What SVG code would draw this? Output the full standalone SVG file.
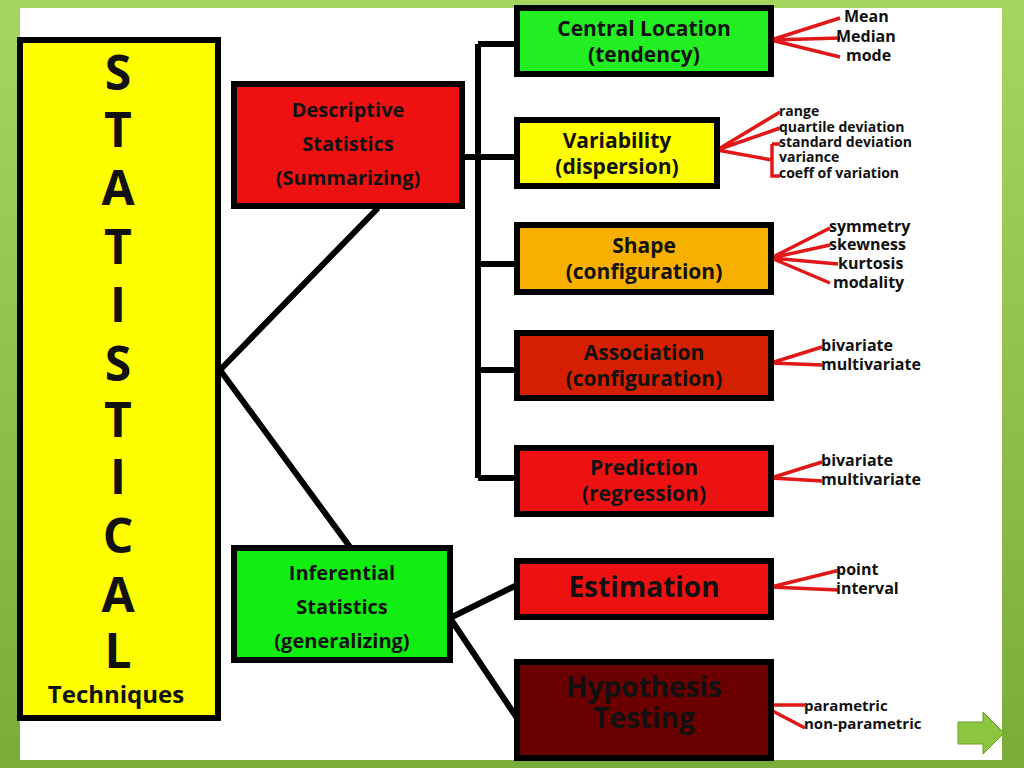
<svg xmlns="http://www.w3.org/2000/svg" width="1024" height="768" viewBox="0 0 1024 768">
<defs><linearGradient id="bg" x1="0" y1="0" x2="0" y2="1"><stop offset="0" stop-color="#a6d660"/><stop offset="1" stop-color="#7aac3a"/></linearGradient></defs>
<style>
.b{stroke:#000;stroke-width:6}
.t{font-family:"Open Sans","DejaVu Sans",sans-serif;font-weight:bold;text-anchor:middle;fill:#111}
.s{font-family:"Open Sans","DejaVu Sans",sans-serif;font-weight:bold;fill:#111}
.k{stroke:#000;stroke-width:6;fill:none}
.r{stroke:#e01818;stroke-width:3.5;fill:none}
</style>
<rect width="1024" height="768" fill="url(#bg)"/>
<rect x="20" y="8" width="982" height="752" fill="#fff"/>
<g id="connectors">
<path class="k" d="M478 44V478M478 44H517M462 157H517M478 264H517M478 370H517M478 478H517M220 370L378 208M220 370L350 547M450 618L517 585M450 618L517 718"/>
<path class="r" d="M771 40L840 18M771 40L840 38M771 40L840 57M717 150L780 112M717 150L780 128M717 150L772 160M772 144V176H780M772 144H780M771 258L830 228M771 258L830 245M771 258L838 264M771 258L830 283M771 363L822 347M771 363L822 365M771 478L822 462M771 478L822 481M771 587L840 570M771 587L838 590M765 705L805 705M765 707L805 728"/>
</g>
<g id="statistical"><rect class="b" x="20" y="40" width="198" height="678" fill="#ffff00"/>
<g class="t" font-size="48"><text x="118" y="90">S</text><text x="118" y="147">T</text><text x="118" y="205">A</text><text x="118" y="264">T</text><text x="118" y="322">I</text><text x="118" y="381">S</text><text x="118" y="437">T</text><text x="118" y="494">I</text><text x="118" y="553">C</text><text x="118" y="612">A</text><text x="118" y="668">L</text></g>
<text class="t" x="116" y="703" font-size="24">Techniques</text></g>
<g id="descriptive"><rect class="b" x="234" y="84" width="228" height="122" fill="#ee1111"/>
<g class="t" font-size="20"><text x="348" y="117">Descriptive</text><text x="348" y="151">Statistics</text><text x="348" y="185">(Summarizing)</text></g></g>
<g id="inferential"><rect class="b" x="234" y="548" width="216" height="112" fill="#11ee11"/>
<g class="t" font-size="20"><text x="342" y="580">Inferential</text><text x="342" y="614">Statistics</text><text x="342" y="648">(generalizing)</text></g></g>
<g id="central"><rect class="b" x="517" y="8" width="254" height="66" fill="#22ee22"/>
<g class="t" font-size="21"><text x="644" y="36">Central Location</text><text x="644" y="62">(tendency)</text></g></g>
<g id="variability"><rect class="b" x="517" y="120" width="200" height="66" fill="#ffff00"/>
<g class="t" font-size="21"><text x="617" y="148">Variability</text><text x="617" y="174">(dispersion)</text></g></g>
<g id="shape"><rect class="b" x="517" y="225" width="254" height="67" fill="#f7b000"/>
<g class="t" font-size="21"><text x="644" y="253">Shape</text><text x="644" y="279">(configuration)</text></g></g>
<g id="association"><rect class="b" x="517" y="333" width="254" height="65" fill="#d42000"/>
<g class="t" font-size="21"><text x="644" y="360">Association</text><text x="644" y="386">(configuration)</text></g></g>
<g id="prediction"><rect class="b" x="517" y="448" width="254" height="66" fill="#ee1111"/>
<g class="t" font-size="21"><text x="644" y="475">Prediction</text><text x="644" y="501">(regression)</text></g></g>
<g id="estimation"><rect class="b" x="517" y="561" width="254" height="56" fill="#ee1111"/>
<text class="t" x="644" y="597" font-size="28">Estimation</text></g>
<g id="hypothesis"><rect class="b" x="517" y="662" width="254" height="96" fill="#6b0000"/>
<g class="t" font-size="28" fill="#222"><text x="644" y="697">Hypothesis</text><text x="644" y="728">Testing</text></g></g>
<g class="s" font-size="16">
<text x="844" y="22">Mean</text><text x="836" y="42">Median</text><text x="846" y="61">mode</text>
<text x="779" y="116" font-size="14">range</text><text x="779" y="132" font-size="14">quartile deviation</text><text x="779" y="147" font-size="14">standard deviation</text><text x="779" y="162" font-size="14">variance</text><text x="779" y="178" font-size="14">coeff of variation</text>
<text x="829" y="232">symmetry</text><text x="829" y="250">skewness</text><text x="838" y="269">kurtosis</text><text x="833" y="288">modality</text>
<text x="821" y="351">bivariate</text><text x="821" y="370">multivariate</text>
<text x="821" y="466">bivariate</text><text x="821" y="485">multivariate</text>
<text x="836" y="575">point</text><text x="836" y="594">interval</text>
<text x="804" y="711" font-size="15">parametric</text><text x="804" y="729" font-size="15">non-parametric</text>
</g>
<polygon points="958,722 983,722 983,712 1004,733 983,754 983,744 958,744" fill="#8cc63f" stroke="#6a9a2a" stroke-width="1"/>
</svg>
